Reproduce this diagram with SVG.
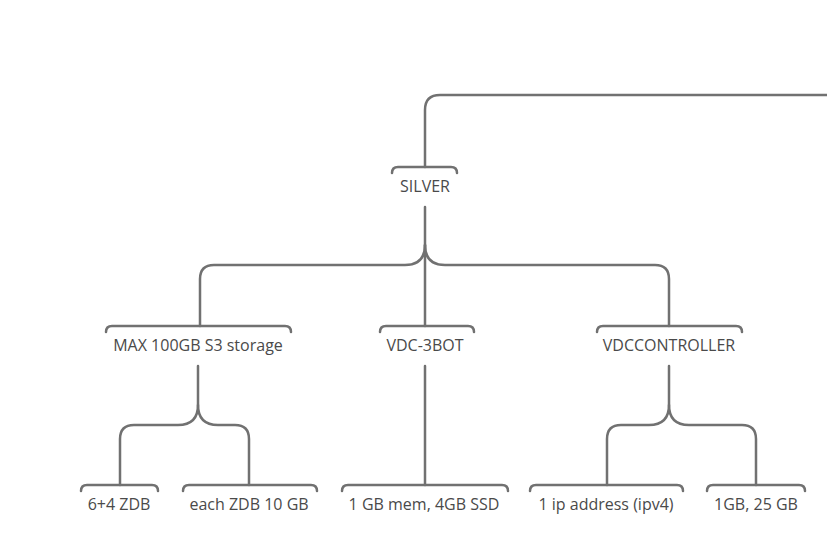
<svg xmlns="http://www.w3.org/2000/svg" width="827" height="552" viewBox="0 0 827 552">
<style>
.l{fill:none;stroke:#717171;stroke-width:2.5;stroke-linecap:round}
text{font-family:"Open Sans","Noto Sans",sans-serif;font-size:16px;fill:#4a4a4a;text-anchor:middle}
</style>
<rect width="827" height="552" fill="#fff"/>
<g id="connectors" class="l">
<path d="M425,167 V110 Q425,95 440,95 H827"/>
<path d="M425,207 V326"/>
<path d="M425,245 Q425,265 405,265 H214 Q200,265 200,279 V326"/>
<path d="M425,245 Q425,265 445,265 H655 Q669,265 669,279 V326"/>
<path d="M198,366 V405 Q198,425 178,425 H134 Q120,425 120,439 V485"/>
<path d="M198,405 Q198,425 218,425 H235 Q249,425 249,439 V485"/>
<path d="M425,366 V485"/>
<path d="M669,366 V405 Q669,425 649,425 H621 Q607,425 607,439 V485"/>
<path d="M669,405 Q669,425 689,425 H742 Q756,425 756,439 V485"/>
</g>
<g id="silver"><path class="l" d="M392,173 Q392,167 398,167 H451 Q457,167 457,173"/><text x="425" y="192">SILVER</text></g>
<g id="max"><path class="l" d="M106,332 Q106,326 112,326 H285 Q291,326 291,332"/><text x="198" y="351">MAX 100GB S3 storage</text></g>
<g id="vdc3bot"><path class="l" d="M380,332 Q380,326 386,326 H468 Q474,326 474,332"/><text x="425" y="351">VDC-3BOT</text></g>
<g id="vdcc"><path class="l" d="M597,332 Q597,326 603,326 H736 Q742,326 742,332"/><text x="669" y="351">VDCCONTROLLER</text></g>
<g id="zdb"><path class="l" d="M81,491 Q81,485 87,485 H152 Q158,485 158,491"/><text x="119" y="510">6+4 ZDB</text></g>
<g id="each"><path class="l" d="M183,491 Q183,485 189,485 H311 Q317,485 317,491"/><text x="249" y="510">each ZDB 10 GB</text></g>
<g id="mem"><path class="l" d="M342,491 Q342,485 348,485 H502 Q508,485 508,491"/><text x="424" y="510">1 GB mem, 4GB SSD</text></g>
<g id="ip"><path class="l" d="M530,491 Q530,485 536,485 H677 Q683,485 683,491"/><text x="606" y="510">1 ip address (ipv4)</text></g>
<g id="gb"><path class="l" d="M707,491 Q707,485 713,485 H799 Q805,485 805,491"/><text x="756" y="510">1GB, 25 GB</text></g>
</svg>
